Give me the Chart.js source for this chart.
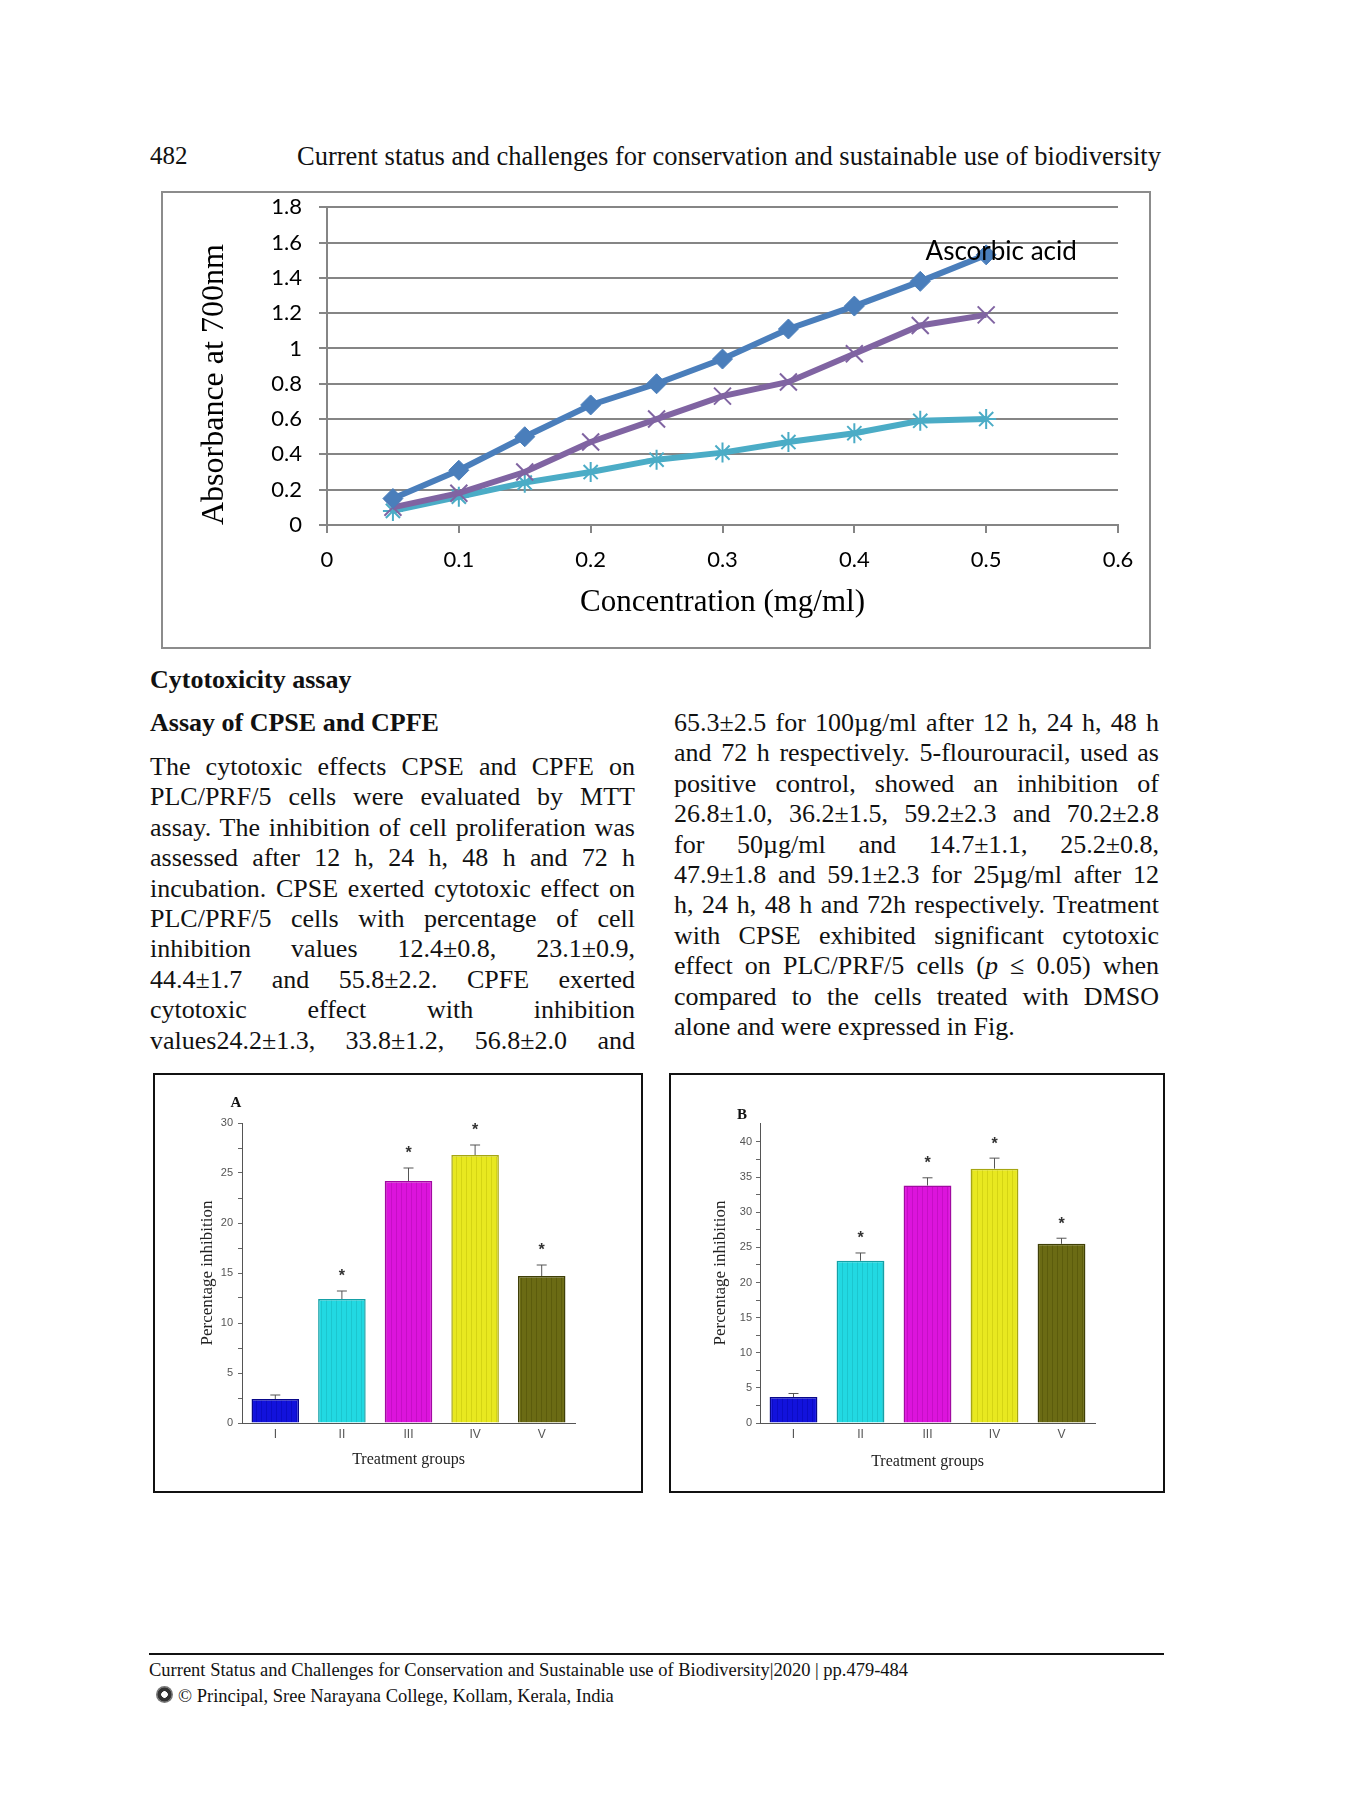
<!DOCTYPE html>
<html>
<head>
<meta charset="utf-8">
<script src="https://cdn.jsdelivr.net/npm/chart.js@4.4.0/dist/chart.umd.min.js"></script>
<style>
  body { margin: 0; width: 1350px; height: 1800px; position: relative; background: #fff;
         font-family: "Liberation Serif", "Times New Roman", serif; color: #111; }
  .abs { position: absolute; }
  .col { font-size: 26px; line-height: 30.4px; }
  .j { text-align: justify; text-align-last: justify; }
  .box { position: absolute; box-sizing: border-box; }
  canvas { position: absolute; }
</style>
</head>
<body>

<!-- page header -->
<div class="abs" style="left:150px; top:141px; font-size:25px; line-height:30px;">482</div>
<div class="abs" style="left:297px; top:141px; font-size:26.5px; line-height:30px; white-space:nowrap;">Current status and challenges for conservation and sustainable use of biodiversity</div>

<!-- line chart -->
<div class="box" style="left:161px; top:191px; width:990px; height:458px; border:2px solid #8c8c8c;"></div>
<canvas id="lineChart" width="986" height="470" style="left:163px; top:177px;"></canvas>

<!-- text -->
<div class="abs col" style="left:150px; top:665px; font-weight:bold;">Cytotoxicity assay</div>
<div class="abs col" style="left:150px; top:708px; font-weight:bold;">Assay of CPSE and CPFE</div>
<div class="abs col" style="left:150px; top:752px; width:485px;">
  <div class="j">The cytotoxic effects CPSE and CPFE on</div>
  <div class="j">PLC/PRF/5 cells were evaluated by MTT</div>
  <div class="j">assay. The inhibition of cell proliferation was</div>
  <div class="j">assessed after 12 h, 24 h, 48 h and 72 h</div>
  <div class="j">incubation. CPSE exerted cytotoxic effect on</div>
  <div class="j">PLC/PRF/5 cells with percentage of cell</div>
  <div class="j">inhibition values 12.4±0.8, 23.1±0.9,</div>
  <div class="j">44.4±1.7 and 55.8±2.2. CPFE exerted</div>
  <div class="j">cytotoxic effect with inhibition</div>
  <div class="j">values24.2±1.3, 33.8±1.2, 56.8±2.0 and</div>
</div>
<div class="abs col" style="left:674px; top:708px; width:485px;">
  <div class="j">65.3±2.5 for 100µg/ml after 12 h, 24 h, 48 h</div>
  <div class="j">and 72 h respectively. 5-flourouracil, used as</div>
  <div class="j">positive control, showed an inhibition of</div>
  <div class="j">26.8±1.0, 36.2±1.5, 59.2±2.3 and 70.2±2.8</div>
  <div class="j">for 50µg/ml and 14.7±1.1, 25.2±0.8,</div>
  <div class="j">47.9±1.8 and 59.1±2.3 for 25µg/ml after 12</div>
  <div class="j">h, 24 h, 48 h and 72h respectively. Treatment</div>
  <div class="j">with CPSE exhibited significant cytotoxic</div>
  <div class="j">effect on PLC/PRF/5 cells (<i>p</i> ≤ 0.05) when</div>
  <div class="j">compared to the cells treated with DMSO</div>
  <div>alone and were expressed in Fig.</div>
</div>

<!-- bar charts -->
<div class="box" style="left:153px; top:1073px; width:490px; height:420px; border:2px solid #111;"></div>
<canvas id="barA" width="483" height="413" style="left:156px; top:1076px;"></canvas>
<div class="box" style="left:669px; top:1073px; width:496px; height:420px; border:2px solid #111;"></div>
<canvas id="barB" width="489" height="413" style="left:672px; top:1076px;"></canvas>

<!-- footer -->
<div class="abs" style="left:149px; top:1653px; width:1015px; height:2px; background:#111;"></div>
<div class="abs" style="left:149px; top:1659px; font-size:18.5px; line-height:22px;">Current Status and Challenges for Conservation and Sustainable use of Biodiversity|2020 | pp.479-484</div>
<div class="abs" style="left:156px; top:1686px; width:17px; height:17px; border-radius:50%; background:radial-gradient(circle, #fff 0 25%, #333 30% 55%, #777 60%);"></div>
<div class="abs" style="left:178px; top:1685px; font-size:18.5px; line-height:22px;">© Principal, Sree Narayana College, Kollam, Kerala, India</div>

<script>
// ---------- data: reducing power (absorbance at 700 nm) ----------
const concentrations = [0.05, 0.1, 0.15, 0.2, 0.25, 0.3, 0.35, 0.4, 0.45, 0.5];
const ascorbicAcid   = [0.15, 0.31, 0.50, 0.68, 0.80, 0.94, 1.11, 1.24, 1.38, 1.53];
const series2        = [0.10, 0.18, 0.30, 0.47, 0.60, 0.73, 0.81, 0.97, 1.13, 1.19];
const series3        = [0.08, 0.16, 0.24, 0.30, 0.37, 0.41, 0.47, 0.52, 0.59, 0.60];

// ---------- data: cytotoxicity (percentage inhibition) ----------
const groups      = ['I', 'II', 'III', 'IV', 'V'];
const inhibitionA = [2.4, 12.4, 24.2, 26.8, 14.7];
const errorA      = [0.4, 0.8, 1.3, 1.0, 1.1];
const inhibitionB = [3.7, 23.1, 33.8, 36.2, 25.5];
const errorB      = [0.5, 1.1, 1.1, 1.5, 0.8];
const signif      = ['', '*', '*', '*', '*'];

Chart.defaults.animation = false;

const xy = vals => concentrations.map((c, i) => ({ x: c, y: vals[i] }));
const gridGray = '#858585';

// label "Ascorbic acid" next to the top line
const seriesLabel = {
  id: 'seriesLabel',
  afterDatasetsDraw(chart) {
    const { ctx, scales: { x, y } } = chart;
    ctx.save();
    ctx.font = '26px Lato, "Liberation Sans", sans-serif';
    ctx.fillStyle = '#000';
    ctx.textAlign = 'center';
    ctx.textBaseline = 'middle';
    ctx.fillText('Ascorbic acid', x.getPixelForValue(0.5) + 15, y.getPixelForValue(1.6) + 9);
    ctx.restore();
  }
};

new Chart(document.getElementById('lineChart'), {
  type: 'line',
  data: {
    datasets: [
      { label: 'Ascorbic acid', data: xy(ascorbicAcid), borderColor: '#4A7EBB', borderWidth: 6,
        pointStyle: 'rectRot', pointRadius: 10, pointBackgroundColor: '#4A7EBB',
        pointBorderColor: '#4A7EBB', pointBorderWidth: 1 },
      { label: 'Series 2', data: xy(series2), borderColor: '#8064A2', borderWidth: 6,
        pointStyle: 'crossRot', pointRadius: 12, pointBorderColor: '#8064A2', pointBorderWidth: 2 },
      { label: 'Series 3', data: xy(series3), borderColor: '#4BACC6', borderWidth: 6,
        pointStyle: 'star', pointRadius: 10, pointBorderColor: '#4BACC6', pointBorderWidth: 2 }
    ]
  },
  options: {
    responsive: false,
    devicePixelRatio: 1,
    clip: false,
    layout: { padding: { left: 0, top: 0, right: 31, bottom: 0 } },
    plugins: { legend: { display: false }, tooltip: { enabled: false } },
    elements: { line: { tension: 0 } },
    scales: {
      x: {
        type: 'linear', min: 0, max: 0.6,
        afterFit: s => { s.height = 122; },
        ticks: { stepSize: 0.1, padding: 14, color: '#000',
                 font: { family: 'Lato, "Liberation Sans", sans-serif', size: 22 },
                 callback: v => String(+v.toFixed(1)) },
        grid: { display: true, drawOnChartArea: false, drawTicks: true, tickLength: 8,
                color: gridGray, lineWidth: 2 },
        border: { display: true, color: gridGray, width: 2 },
        title: { display: true, text: 'Concentration (mg/ml)', color: '#000',
                 font: { family: '"Liberation Serif", serif', size: 31 },
                 padding: { top: 0, bottom: 26 } }
      },
      y: {
        min: 0, max: 1.8,
        afterFit: s => { s.width = 164; },
        ticks: { stepSize: 0.2, padding: 17, color: '#000',
                 font: { family: 'Lato, "Liberation Sans", sans-serif', size: 22 },
                 callback: v => String(+v.toFixed(1)) },
        grid: { color: gridGray, lineWidth: 2, tickLength: 8 },
        border: { display: true, color: gridGray, width: 2 },
        title: { display: true, text: 'Absorbance at 700nm', align: 'start', color: '#000',
                 font: { family: '"Liberation Serif", serif', size: 32 },
                 padding: { top: 32, bottom: 0 } }
      }
    }
  },
  plugins: [seriesLabel]
});

// ---------- bar charts ----------
function stripes(base, dark) {
  const c = document.createElement('canvas');
  c.width = 5; c.height = 1;
  const g = c.getContext('2d');
  g.fillStyle = base; g.fillRect(0, 0, 5, 1);
  g.fillStyle = dark; g.fillRect(0, 0, 1, 1);
  return g.createPattern(c, 'repeat');
}
const barFills = [
  stripes('#1212dc', '#0c0cc4'),
  stripes('#22d9e2', '#1cc6ce'),
  stripes('#dc14dc', '#c60ec6'),
  stripes('#e8e820', '#d4d414'),
  stripes('#6b6b14', '#5c5c0c')
];
const barBorders = ['#08088a', '#15a0a6', '#a00aa0', '#a6a612', '#3f3f06'];

// error bars, significance stars and panel letter
const barExtras = {
  id: 'barExtras',
  afterDatasetsDraw(chart, args, opts) {
    const { ctx } = chart;
    const y = chart.scales.y;
    const meta = chart.getDatasetMeta(0);
    ctx.save();
    ctx.strokeStyle = '#555';
    ctx.lineWidth = 1;
    ctx.fillStyle = '#333';
    ctx.textAlign = 'center';
    ctx.textBaseline = 'middle';
    meta.data.forEach((bar, i) => {
      const v = chart.data.datasets[0].data[i];
      const top = y.getPixelForValue(v + opts.errors[i]);
      ctx.beginPath();
      ctx.moveTo(bar.x, bar.y);
      ctx.lineTo(bar.x, top);
      ctx.moveTo(bar.x - 5, top);
      ctx.lineTo(bar.x + 5, top);
      ctx.stroke();
      ctx.font = 'bold 16px "Liberation Sans", sans-serif';
      ctx.fillText(signif[i], bar.x, top - 14);
    });
    ctx.font = 'bold 15px "Liberation Serif", serif';
    ctx.textAlign = 'center';
    ctx.fillStyle = '#111';
    ctx.fillText(opts.letter, opts.lx, opts.ly);
    ctx.restore();
  }
};

function barChart(id, values, errors, max, cfg) {
  new Chart(document.getElementById(id), {
    type: 'bar',
    data: {
      labels: groups,
      datasets: [{ data: values, backgroundColor: barFills, borderColor: barBorders,
                   borderWidth: 1.5, categoryPercentage: 1, barPercentage: 0.714 }]
    },
    options: {
      responsive: false,
      devicePixelRatio: 1,
      layout: { padding: { left: 0, top: 47, right: cfg.right, bottom: 0 } },
      plugins: { legend: { display: false }, tooltip: { enabled: false },
                 barExtras: { errors: errors, letter: cfg.letter, lx: cfg.lx, ly: cfg.ly } },
      scales: {
        x: {
          afterFit: s => { s.height = 66; },
          grid: { display: false, drawTicks: false },
          border: { display: true, color: '#555', width: 1 },
          ticks: { padding: 4, color: '#555', font: { family: '"Liberation Sans", sans-serif', size: 12 } },
          title: { display: true, text: 'Treatment groups', color: '#222',
                   font: { family: '"Liberation Serif", serif', size: 16 },
                   padding: { top: 0, bottom: cfg.xtPad } }
        },
        y: {
          min: 0, max: max,
          afterFit: s => { s.width = cfg.left; },
          afterBuildTicks: s => { s.ticks = s.ticks.filter(t => Math.abs(t.value / 2.5 - Math.round(t.value / 2.5)) < 1e-6); },
          ticks: { stepSize: 2.5, padding: cfg.tkPad, color: '#555',
                   font: { family: '"Liberation Sans", sans-serif', size: 11 },
                   callback: v => (v % 5 === 0 ? String(v) : '') },
          grid: { display: true, drawOnChartArea: false, drawTicks: true, tickLength: 4, color: '#666' },
          border: { display: true, color: '#555', width: 1 },
          title: { display: true, text: 'Percentage inhibition', color: '#222',
                   font: { family: '"Liberation Serif", serif', size: 17 },
                   padding: { top: cfg.ytPad, bottom: 0 } }
        }
      }
    },
    plugins: [barExtras]
  });
}

barChart('barA', inhibitionA, errorA, 30,
  { left: 86, right: 64, letter: 'A', lx: 80, ly: 27, xtPad: 20, ytPad: 41, tkPad: 5 });
barChart('barB', inhibitionB, errorB, 42.7,
  { left: 88, right: 66, letter: 'B', lx: 70, ly: 39, xtPad: 18, ytPad: 38, tkPad: 4 });
</script>
</body>
</html>
